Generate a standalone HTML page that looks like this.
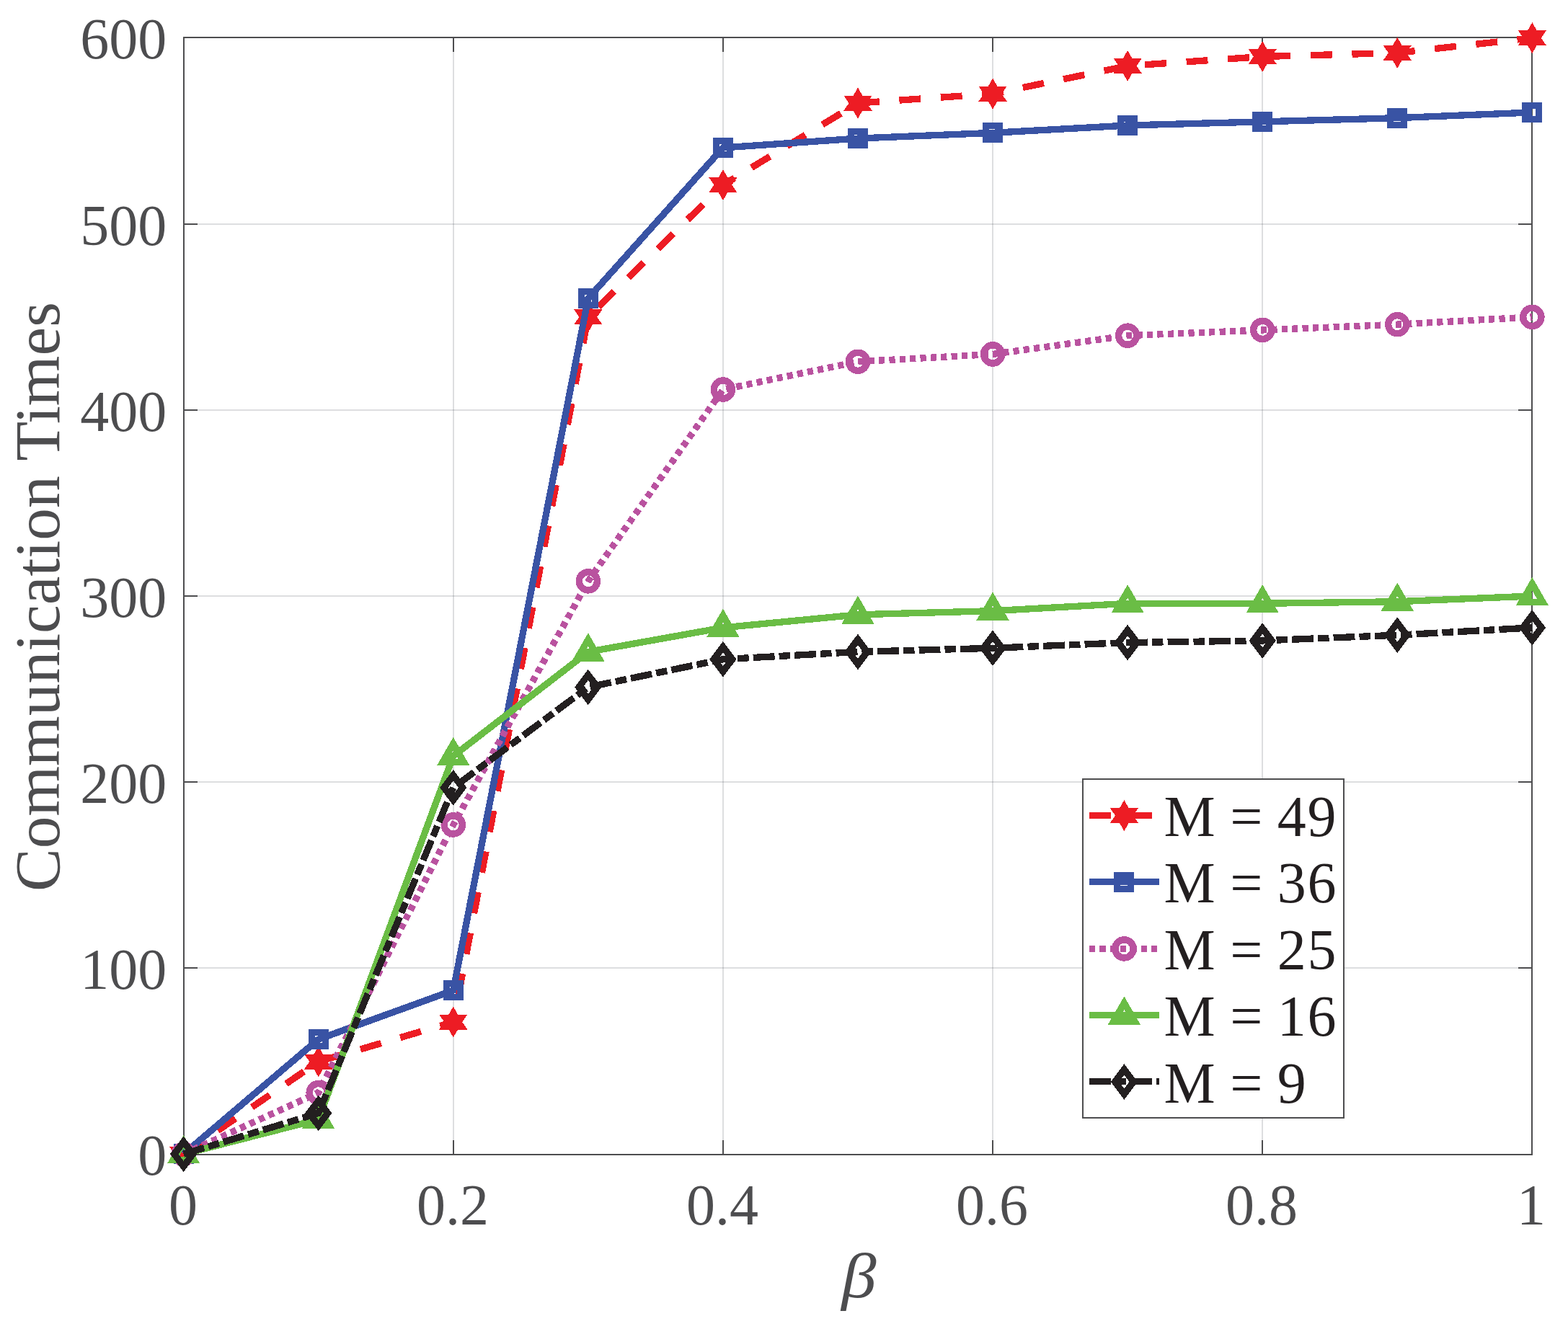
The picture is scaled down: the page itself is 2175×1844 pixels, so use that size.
<!DOCTYPE html>
<html lang="en"><head><meta charset="utf-8"><title>Communication Times vs beta</title>
<style>
html,body{margin:0;padding:0;background:#fff;}
body{width:2175px;height:1844px;overflow:hidden;}
svg{display:block;}
text{font-family:"Liberation Serif","DejaVu Serif",serif;}
.tk{font-size:80px;fill:#4d4d4f;}
.lg{font-size:80px;fill:#231f20;}
.yl{font-size:89.5px;fill:#4d4d4f;}
.xl{font-size:88px;fill:#4d4d4f;font-style:italic;}
</style></head><body>
<svg width="2175" height="1844" viewBox="0 0 2175 1844">
<rect x="0" y="0" width="2175" height="1844" fill="#ffffff"/>
<g stroke="#1e2230" stroke-opacity="0.148" stroke-width="2" fill="none">
<line x1="629" y1="52" x2="629" y2="1602"/>
<line x1="1003" y1="52" x2="1003" y2="1602"/>
<line x1="1377" y1="52" x2="1377" y2="1602"/>
<line x1="1751" y1="52" x2="1751" y2="1602"/>
<line x1="255" y1="1343" x2="2125" y2="1343"/>
<line x1="255" y1="1085" x2="2125" y2="1085"/>
<line x1="255" y1="827" x2="2125" y2="827"/>
<line x1="255" y1="569" x2="2125" y2="569"/>
<line x1="255" y1="311" x2="2125" y2="311"/>
</g>
<g stroke="#4d4d4f" stroke-width="2" fill="none">
<rect x="255" y="52" width="1870" height="1550"/>
<line x1="629" y1="1602" x2="629" y2="1582"/>
<line x1="629" y1="52" x2="629" y2="72"/>
<line x1="1003" y1="1602" x2="1003" y2="1582"/>
<line x1="1003" y1="52" x2="1003" y2="72"/>
<line x1="1377" y1="1602" x2="1377" y2="1582"/>
<line x1="1377" y1="52" x2="1377" y2="72"/>
<line x1="1751" y1="1602" x2="1751" y2="1582"/>
<line x1="1751" y1="52" x2="1751" y2="72"/>
<line x1="255" y1="1343" x2="274" y2="1343"/>
<line x1="2125" y1="1343" x2="2106" y2="1343"/>
<line x1="255" y1="1085" x2="274" y2="1085"/>
<line x1="2125" y1="1085" x2="2106" y2="1085"/>
<line x1="255" y1="827" x2="274" y2="827"/>
<line x1="2125" y1="827" x2="2106" y2="827"/>
<line x1="255" y1="569" x2="274" y2="569"/>
<line x1="2125" y1="569" x2="2106" y2="569"/>
<line x1="255" y1="311" x2="274" y2="311"/>
<line x1="2125" y1="311" x2="2106" y2="311"/>
</g>
<g class="tk" text-anchor="end">
<text x="231.2" y="1630.3">0</text>
<text x="231.2" y="1371.9">100</text>
<text x="231.2" y="1113.9">200</text>
<text x="231.2" y="855.9">300</text>
<text x="231.2" y="597.9">400</text>
<text x="231.2" y="339.9">500</text>
<text x="231.2" y="81.3">600</text>
</g>
<g class="tk" text-anchor="middle">
<text x="254" y="1699">0</text>
<text x="628" y="1699">0.2</text>
<text x="1002" y="1699">0.4</text>
<text x="1376" y="1699">0.6</text>
<text x="1750" y="1699">0.8</text>
<text x="2124" y="1699">1</text>
</g>
<text class="yl" text-anchor="middle" transform="translate(81.6 828) rotate(-90)">Communication Times</text>
<text class="xl" text-anchor="middle" transform="translate(1191.3 1800) scale(1.1 1)">β</text>
<g shape-rendering="crispEdges">
<polyline points="254.6,1601.3 441.68,1473.02 628.75,1418.05 815.83,439.85 1002.9,256.6 1189.97,143.04 1377.05,130.13 1564.12,91.42 1751.2,78.51 1938.27,73.35 2125.35,52.7" fill="none" stroke="#ed1c24" stroke-width="9.3" stroke-linejoin="miter" stroke-dasharray="29.85 27.68"/>
<polygon points="254.6,1579.8 260.9,1590.8 274.3,1590.8 267,1601.3 274.3,1611.8 260.9,1611.8 254.6,1622.8 248.3,1611.8 234.9,1611.8 242.2,1601.3 234.9,1590.8 248.3,1590.8" fill="#ed1c24"/>
<polygon points="441.68,1451.52 447.98,1462.52 461.38,1462.52 454.07,1473.02 461.38,1483.52 447.98,1483.52 441.68,1494.52 435.38,1483.52 421.98,1483.52 429.28,1473.02 421.98,1462.52 435.38,1462.52" fill="#ed1c24"/>
<polygon points="628.75,1396.55 635.05,1407.55 648.45,1407.55 641.15,1418.05 648.45,1428.55 635.05,1428.55 628.75,1439.55 622.45,1428.55 609.05,1428.55 616.35,1418.05 609.05,1407.55 622.45,1407.55" fill="#ed1c24"/>
<polygon points="815.83,418.35 822.12,429.35 835.53,429.35 828.23,439.85 835.53,450.35 822.12,450.35 815.83,461.35 809.53,450.35 796.12,450.35 803.43,439.85 796.12,429.35 809.53,429.35" fill="#ed1c24"/>
<polygon points="1002.9,235.1 1009.2,246.1 1022.6,246.1 1015.3,256.6 1022.6,267.1 1009.2,267.1 1002.9,278.1 996.6,267.1 983.2,267.1 990.5,256.6 983.2,246.1 996.6,246.1" fill="#ed1c24"/>
<polygon points="1189.97,121.54 1196.27,132.54 1209.67,132.54 1202.38,143.04 1209.67,153.54 1196.27,153.54 1189.97,164.54 1183.67,153.54 1170.27,153.54 1177.57,143.04 1170.27,132.54 1183.67,132.54" fill="#ed1c24"/>
<polygon points="1377.05,108.63 1383.35,119.63 1396.75,119.63 1389.45,130.13 1396.75,140.63 1383.35,140.63 1377.05,151.63 1370.75,140.63 1357.35,140.63 1364.65,130.13 1357.35,119.63 1370.75,119.63" fill="#ed1c24"/>
<polygon points="1564.12,69.92 1570.42,80.92 1583.82,80.92 1576.52,91.42 1583.82,101.92 1570.42,101.92 1564.12,112.92 1557.82,101.92 1544.42,101.92 1551.72,91.42 1544.42,80.92 1557.82,80.92" fill="#ed1c24"/>
<polygon points="1751.2,57.01 1757.5,68.01 1770.9,68.01 1763.6,78.51 1770.9,89.01 1757.5,89.01 1751.2,100.01 1744.9,89.01 1731.5,89.01 1738.8,78.51 1731.5,68.01 1744.9,68.01" fill="#ed1c24"/>
<polygon points="1938.27,51.85 1944.57,62.85 1957.97,62.85 1950.67,73.35 1957.97,83.85 1944.57,83.85 1938.27,94.85 1931.97,83.85 1918.57,83.85 1925.87,73.35 1918.57,62.85 1931.97,62.85" fill="#ed1c24"/>
<polygon points="2125.35,31.2 2131.65,42.2 2145.05,42.2 2137.75,52.7 2145.05,63.2 2131.65,63.2 2125.35,74.2 2119.05,63.2 2105.65,63.2 2112.95,52.7 2105.65,42.2 2119.05,42.2" fill="#ed1c24"/>
<polyline points="254.6,1601.3 441.68,1442.05 628.75,1374.17 815.83,414.04 1002.9,204.98 1189.97,192.07 1377.05,184.33 1564.12,174.01 1751.2,168.85 1938.27,163.68 2125.35,155.94" fill="none" stroke="#3953a4" stroke-width="9.3" stroke-linejoin="miter"/>
<rect x="245.1" y="1591.8" width="19" height="19" fill="none" stroke="#3953a4" stroke-width="9"/>
<rect x="432.18" y="1432.55" width="19" height="19" fill="none" stroke="#3953a4" stroke-width="9"/>
<rect x="619.25" y="1364.67" width="19" height="19" fill="none" stroke="#3953a4" stroke-width="9"/>
<rect x="806.33" y="404.54" width="19" height="19" fill="none" stroke="#3953a4" stroke-width="9"/>
<rect x="993.4" y="195.48" width="19" height="19" fill="none" stroke="#3953a4" stroke-width="9"/>
<rect x="1180.47" y="182.57" width="19" height="19" fill="none" stroke="#3953a4" stroke-width="9"/>
<rect x="1367.55" y="174.83" width="19" height="19" fill="none" stroke="#3953a4" stroke-width="9"/>
<rect x="1554.62" y="164.51" width="19" height="19" fill="none" stroke="#3953a4" stroke-width="9"/>
<rect x="1741.7" y="159.35" width="19" height="19" fill="none" stroke="#3953a4" stroke-width="9"/>
<rect x="1928.77" y="154.18" width="19" height="19" fill="none" stroke="#3953a4" stroke-width="9"/>
<rect x="2115.85" y="146.44" width="19" height="19" fill="none" stroke="#3953a4" stroke-width="9"/>
<polyline points="254.6,1601.3 441.68,1516.13 628.75,1144.46 815.83,806.35 1002.9,540.51 1189.97,501.79 1377.05,491.47 1564.12,465.66 1751.2,457.92 1938.27,450.17 2125.35,439.85" fill="none" stroke="#b9529f" stroke-width="9.3" stroke-linejoin="miter" stroke-dasharray="8.15 6.2325"/>
<circle cx="254.6" cy="1601.3" r="12.6" fill="none" stroke="#b9529f" stroke-width="9.4"/>
<circle cx="441.68" cy="1516.13" r="12.6" fill="none" stroke="#b9529f" stroke-width="9.4"/>
<circle cx="628.75" cy="1144.46" r="12.6" fill="none" stroke="#b9529f" stroke-width="9.4"/>
<circle cx="815.83" cy="806.35" r="12.6" fill="none" stroke="#b9529f" stroke-width="9.4"/>
<circle cx="1002.9" cy="540.51" r="12.6" fill="none" stroke="#b9529f" stroke-width="9.4"/>
<circle cx="1189.97" cy="501.79" r="12.6" fill="none" stroke="#b9529f" stroke-width="9.4"/>
<circle cx="1377.05" cy="491.47" r="12.6" fill="none" stroke="#b9529f" stroke-width="9.4"/>
<circle cx="1564.12" cy="465.66" r="12.6" fill="none" stroke="#b9529f" stroke-width="9.4"/>
<circle cx="1751.2" cy="457.92" r="12.6" fill="none" stroke="#b9529f" stroke-width="9.4"/>
<circle cx="1938.27" cy="450.17" r="12.6" fill="none" stroke="#b9529f" stroke-width="9.4"/>
<circle cx="2125.35" cy="439.85" r="12.6" fill="none" stroke="#b9529f" stroke-width="9.4"/>
<polyline points="254.6,1601.3 441.68,1553.29 628.75,1048.97 815.83,904.43 1002.9,870.88 1189.97,852.81 1377.05,847.65 1564.12,837.32 1751.2,837.32 1938.27,834.74 2125.35,827" fill="none" stroke="#6abd45" stroke-width="9.3" stroke-linejoin="miter"/>
<polygon points="254.6,1584.4 269.24,1609.75 239.96,1609.75" fill="none" stroke="#6abd45" stroke-width="9.3" stroke-miterlimit="10"/>
<polygon points="441.68,1536.39 456.31,1561.74 427.04,1561.74" fill="none" stroke="#6abd45" stroke-width="9.3" stroke-miterlimit="10"/>
<polygon points="628.75,1032.07 643.39,1057.42 614.11,1057.42" fill="none" stroke="#6abd45" stroke-width="9.3" stroke-miterlimit="10"/>
<polygon points="815.83,887.53 830.46,912.88 801.19,912.88" fill="none" stroke="#6abd45" stroke-width="9.3" stroke-miterlimit="10"/>
<polygon points="1002.9,853.98 1017.54,879.33 988.26,879.33" fill="none" stroke="#6abd45" stroke-width="9.3" stroke-miterlimit="10"/>
<polygon points="1189.97,835.91 1204.61,861.26 1175.34,861.26" fill="none" stroke="#6abd45" stroke-width="9.3" stroke-miterlimit="10"/>
<polygon points="1377.05,830.75 1391.69,856.1 1362.41,856.1" fill="none" stroke="#6abd45" stroke-width="9.3" stroke-miterlimit="10"/>
<polygon points="1564.12,820.42 1578.76,845.77 1549.49,845.77" fill="none" stroke="#6abd45" stroke-width="9.3" stroke-miterlimit="10"/>
<polygon points="1751.2,820.42 1765.84,845.77 1736.56,845.77" fill="none" stroke="#6abd45" stroke-width="9.3" stroke-miterlimit="10"/>
<polygon points="1938.27,817.84 1952.91,843.19 1923.64,843.19" fill="none" stroke="#6abd45" stroke-width="9.3" stroke-miterlimit="10"/>
<polygon points="2125.35,810.1 2139.99,835.45 2110.71,835.45" fill="none" stroke="#6abd45" stroke-width="9.3" stroke-miterlimit="10"/>
<polyline points="254.6,1601.3 441.68,1544.52 628.75,1092.84 815.83,953.47 1002.9,914.75 1189.97,904.43 1377.05,899.27 1564.12,891.52 1751.2,888.94 1938.27,881.2 2125.35,870.88" fill="none" stroke="#231f20" stroke-width="9.3" stroke-linejoin="miter" stroke-dasharray="29.85 6.1 15.5 6.08"/>
<polygon points="254.6,1584.2 267.5,1601.3 254.6,1618.4 241.7,1601.3" fill="none" stroke="#231f20" stroke-width="9.3" stroke-miterlimit="10"/>
<polygon points="441.68,1527.42 454.57,1544.52 441.68,1561.62 428.78,1544.52" fill="none" stroke="#231f20" stroke-width="9.3" stroke-miterlimit="10"/>
<polygon points="628.75,1075.74 641.65,1092.84 628.75,1109.94 615.85,1092.84" fill="none" stroke="#231f20" stroke-width="9.3" stroke-miterlimit="10"/>
<polygon points="815.83,936.37 828.73,953.47 815.83,970.57 802.93,953.47" fill="none" stroke="#231f20" stroke-width="9.3" stroke-miterlimit="10"/>
<polygon points="1002.9,897.65 1015.8,914.75 1002.9,931.85 990,914.75" fill="none" stroke="#231f20" stroke-width="9.3" stroke-miterlimit="10"/>
<polygon points="1189.97,887.33 1202.88,904.43 1189.97,921.53 1177.07,904.43" fill="none" stroke="#231f20" stroke-width="9.3" stroke-miterlimit="10"/>
<polygon points="1377.05,882.17 1389.95,899.27 1377.05,916.37 1364.15,899.27" fill="none" stroke="#231f20" stroke-width="9.3" stroke-miterlimit="10"/>
<polygon points="1564.12,874.42 1577.02,891.52 1564.12,908.62 1551.22,891.52" fill="none" stroke="#231f20" stroke-width="9.3" stroke-miterlimit="10"/>
<polygon points="1751.2,871.84 1764.1,888.94 1751.2,906.04 1738.3,888.94" fill="none" stroke="#231f20" stroke-width="9.3" stroke-miterlimit="10"/>
<polygon points="1938.27,864.1 1951.17,881.2 1938.27,898.3 1925.37,881.2" fill="none" stroke="#231f20" stroke-width="9.3" stroke-miterlimit="10"/>
<polygon points="2125.35,853.78 2138.25,870.88 2125.35,887.98 2112.45,870.88" fill="none" stroke="#231f20" stroke-width="9.3" stroke-miterlimit="10"/>
</g>
<rect x="1502" y="1081" width="362" height="470" fill="#ffffff" stroke="#4d4d4f" stroke-width="2"/>
<g shape-rendering="crispEdges">
<line x1="1511" y1="1131.5" x2="1608" y2="1131.5" stroke="#ed1c24" stroke-width="9" stroke-dasharray="29.85 27.68"/>
<polygon points="1559.4,1110.1 1565.7,1121.1 1579.1,1121.1 1571.8,1131.6 1579.1,1142.1 1565.7,1142.1 1559.4,1153.1 1553.1,1142.1 1539.7,1142.1 1547,1131.6 1539.7,1121.1 1553.1,1121.1" fill="#ed1c24"/>
<line x1="1511" y1="1223.5" x2="1608" y2="1223.5" stroke="#3953a4" stroke-width="9"/>
<rect x="1549.9" y="1214.45" width="19" height="19" fill="none" stroke="#3953a4" stroke-width="9"/>
<line x1="1511" y1="1316.5" x2="1608" y2="1316.5" stroke="#b9529f" stroke-width="9" stroke-dasharray="8.15 6.2325"/>
<circle cx="1559.4" cy="1316.4" r="12.6" fill="none" stroke="#b9529f" stroke-width="9.4"/>
<line x1="1511" y1="1408.5" x2="1608" y2="1408.5" stroke="#6abd45" stroke-width="9"/>
<polygon points="1559.4,1391.75 1574.04,1417.1 1544.76,1417.1" fill="none" stroke="#6abd45" stroke-width="9.3" stroke-miterlimit="10"/>
<line x1="1511" y1="1500.5" x2="1608" y2="1500.5" stroke="#231f20" stroke-width="9" stroke-dasharray="29.85 6.1 15.5 6.08"/>
<polygon points="1559.4,1483.9 1572.3,1501 1559.4,1518.1 1546.5,1501" fill="none" stroke="#231f20" stroke-width="9.3" stroke-miterlimit="10"/>
</g>
<g class="lg">
<text x="1614.6 1685.7 1706.2 1751.3 1771.8 1813.4" y="1160" xml:space="preserve">M = 49</text>
<text x="1614.6 1685.7 1706.2 1751.3 1771.8 1813.4" y="1252.45" xml:space="preserve">M = 36</text>
<text x="1614.6 1685.7 1706.2 1751.3 1771.8 1813.4" y="1344.9" xml:space="preserve">M = 25</text>
<text x="1614.6 1685.7 1706.2 1751.3 1771.8 1813.4" y="1437.35" xml:space="preserve">M = 16</text>
<text x="1614.6 1685.7 1706.2 1751.3 1771.8" y="1529.8" xml:space="preserve">M = 9</text>
</g>
</svg>
</body></html>
